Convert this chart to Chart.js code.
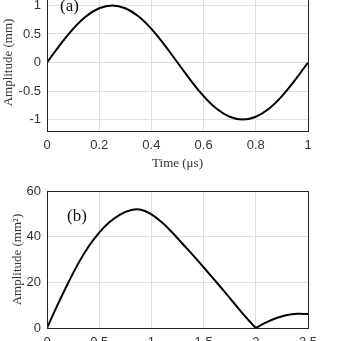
<!DOCTYPE html>
<html>
<head>
<meta charset="utf-8">
<script src="https://cdn.jsdelivr.net/npm/chart.js@4.4.1/dist/chart.umd.min.js"></script>
<style>
  html, body { margin: 0; padding: 0; background: #fff; overflow: hidden; width: 341px; height: 341px; }
  .panel { position: absolute; left: 0; width: 341px; }
  #boxA { top: -20px; height: 196px; }
  #boxB { top: 176px; height: 200px; }
</style>
</head>
<body>
<div class="panel" id="boxA"><canvas id="chartA"></canvas></div>
<div class="panel" id="boxB"><canvas id="chartB"></canvas></div>
<script>
// (a) displacement vs time
const timeA = [0, 0.05, 0.1, 0.15, 0.2, 0.25, 0.3, 0.35, 0.4, 0.45, 0.5,
               0.55, 0.6, 0.65, 0.7, 0.75, 0.8, 0.85, 0.9, 0.95, 1];
const ampA = [0, 0.31, 0.59, 0.81, 0.95, 1, 0.95, 0.81, 0.59, 0.31, 0,
              -0.31, -0.59, -0.81, -0.95, -1, -0.95, -0.81, -0.59, -0.31, 0];
const xTicksA = [0, 0.2, 0.4, 0.6, 0.8, 1];
const yTicksA = [-1, -0.5, 0, 0.5, 1];

// (b) squared amplitude
const timeB = [0, 0.1, 0.2, 0.3, 0.4, 0.5, 0.6, 0.7, 0.8, 0.9, 1, 1.1, 1.2,
               1.3, 1.4, 1.5, 1.6, 1.7, 1.8, 1.9, 2, 2.1, 2.2, 2.3, 2.4, 2.5];
const ampB = [0, 10, 19.5, 28.3, 35.8, 41.8, 46.4, 49.7, 51.6, 51.8, 49.8, 46.3, 41.8,
              36.8, 31.8, 26.6, 21.3, 15.9, 10.4, 5, 0, 2.5, 4.4, 5.7, 6.2, 6.1];
const xTicksB = [0, 0.5, 1, 1.5, 2, 2.5];
const yTicksB = [0, 20, 40, 60];

const tickColor = '#333';
const gridColor = '#dedede';

const frameAndLabel = {
  id: 'frameAndLabel',
  afterDraw(chart, args, opts) {
    const { ctx, chartArea } = chart;
    const l = Math.round(chartArea.left) + 0.5;
    const t = Math.round(chartArea.top) + 0.5;
    const r = Math.round(chartArea.right) + 0.5;
    const b = Math.round(chartArea.bottom) + 0.5;
    ctx.save();
    ctx.strokeStyle = '#222';
    ctx.lineWidth = 1;
    ctx.strokeRect(l, t, r - l, b - t);
    ctx.font = '17px "Liberation Serif"';
    ctx.fillStyle = '#111';
    ctx.textBaseline = 'middle';
    ctx.fillText(opts.text, chartArea.left + opts.dx, chartArea.top + opts.dy);
    ctx.restore();
  }
};

function points(xs, ys) {
  return xs.map((x, i) => ({ x: x, y: ys[i] }));
}

function lineSet(data) {
  return {
    data: data,
    borderColor: '#000',
    borderWidth: 2,
    pointRadius: 0,
    tension: 0.4,
    fill: false
  };
}

function makeChart(id, datasets, o) {
  return new Chart(document.getElementById(id), {
    type: 'line',
    data: { datasets: datasets },
    plugins: [frameAndLabel],
    options: {
      responsive: true,
      maintainAspectRatio: false,
      animation: false,
      layout: { padding: { left: 0, right: 33, top: o.padTop, bottom: 0 } },
      plugins: {
        legend: { display: false },
        tooltip: { enabled: false },
        frameAndLabel: { text: o.label, dx: o.dx, dy: o.dy }
      },
      scales: {
        x: {
          type: 'linear',
          min: o.xMin, max: o.xMax,
          afterBuildTicks: s => { s.ticks = o.xTicks.map(v => ({ value: v })); },
          afterFit: s => { s.height = o.xHeight; },
          grid: { color: gridColor, drawTicks: false },
          border: { display: false },
          ticks: {
            padding: 7, color: tickColor,
            font: { family: '"Liberation Sans"', size: 13 },
            maxRotation: 0,
            callback: v => String(v)
          },
          title: {
            display: !!o.xTitle, text: o.xTitle || '', color: tickColor,
            font: { family: '"Liberation Serif"', size: 13 },
            padding: { top: 0, bottom: 5 }
          }
        },
        y: {
          min: o.yMin, max: o.yMax,
          afterBuildTicks: s => { s.ticks = o.yTicks.map(v => ({ value: v })); },
          afterFit: s => { s.width = 47; },
          grid: { color: gridColor, drawTicks: false },
          border: { display: false },
          ticks: {
            padding: 6, color: tickColor,
            font: { family: '"Liberation Sans"', size: 13 },
            callback: v => String(v)
          },
          title: {
            display: true, text: o.yTitle, color: tickColor,
            font: { family: '"Liberation Serif"', size: 13 },
            padding: { top: o.yTitlePad, bottom: 0 }
          }
        }
      }
    }
  });
}

makeChart('chartA', [lineSet(points(timeA, ampA))], {
  padTop: 14, xHeight: 45,
  xMin: 0, xMax: 1, yMin: -1.2, yMax: 1.2,
  xTicks: xTicksA, yTicks: yTicksA,
  xTitle: 'Time (μs)', yTitle: 'Amplitude (mm)', yTitlePad: 1,
  label: '(a)', dx: 13, dy: 13
});

// split at the cusp (t = 2) so the corner stays sharp
const cusp = timeB.indexOf(2);
makeChart('chartB', [
  lineSet(points(timeB.slice(0, cusp + 1), ampB.slice(0, cusp + 1))),
  lineSet(points(timeB.slice(cusp), ampB.slice(cusp)))
], {
  padTop: 15, xHeight: 48,
  xMin: 0, xMax: 2.5, yMin: 0, yMax: 60,
  xTicks: xTicksB, yTicks: yTicksB,
  xTitle: '', yTitle: 'Amplitude (mm²)', yTitlePad: 9.5,
  label: '(b)', dx: 20, dy: 26
});
</script>
</body>
</html>
